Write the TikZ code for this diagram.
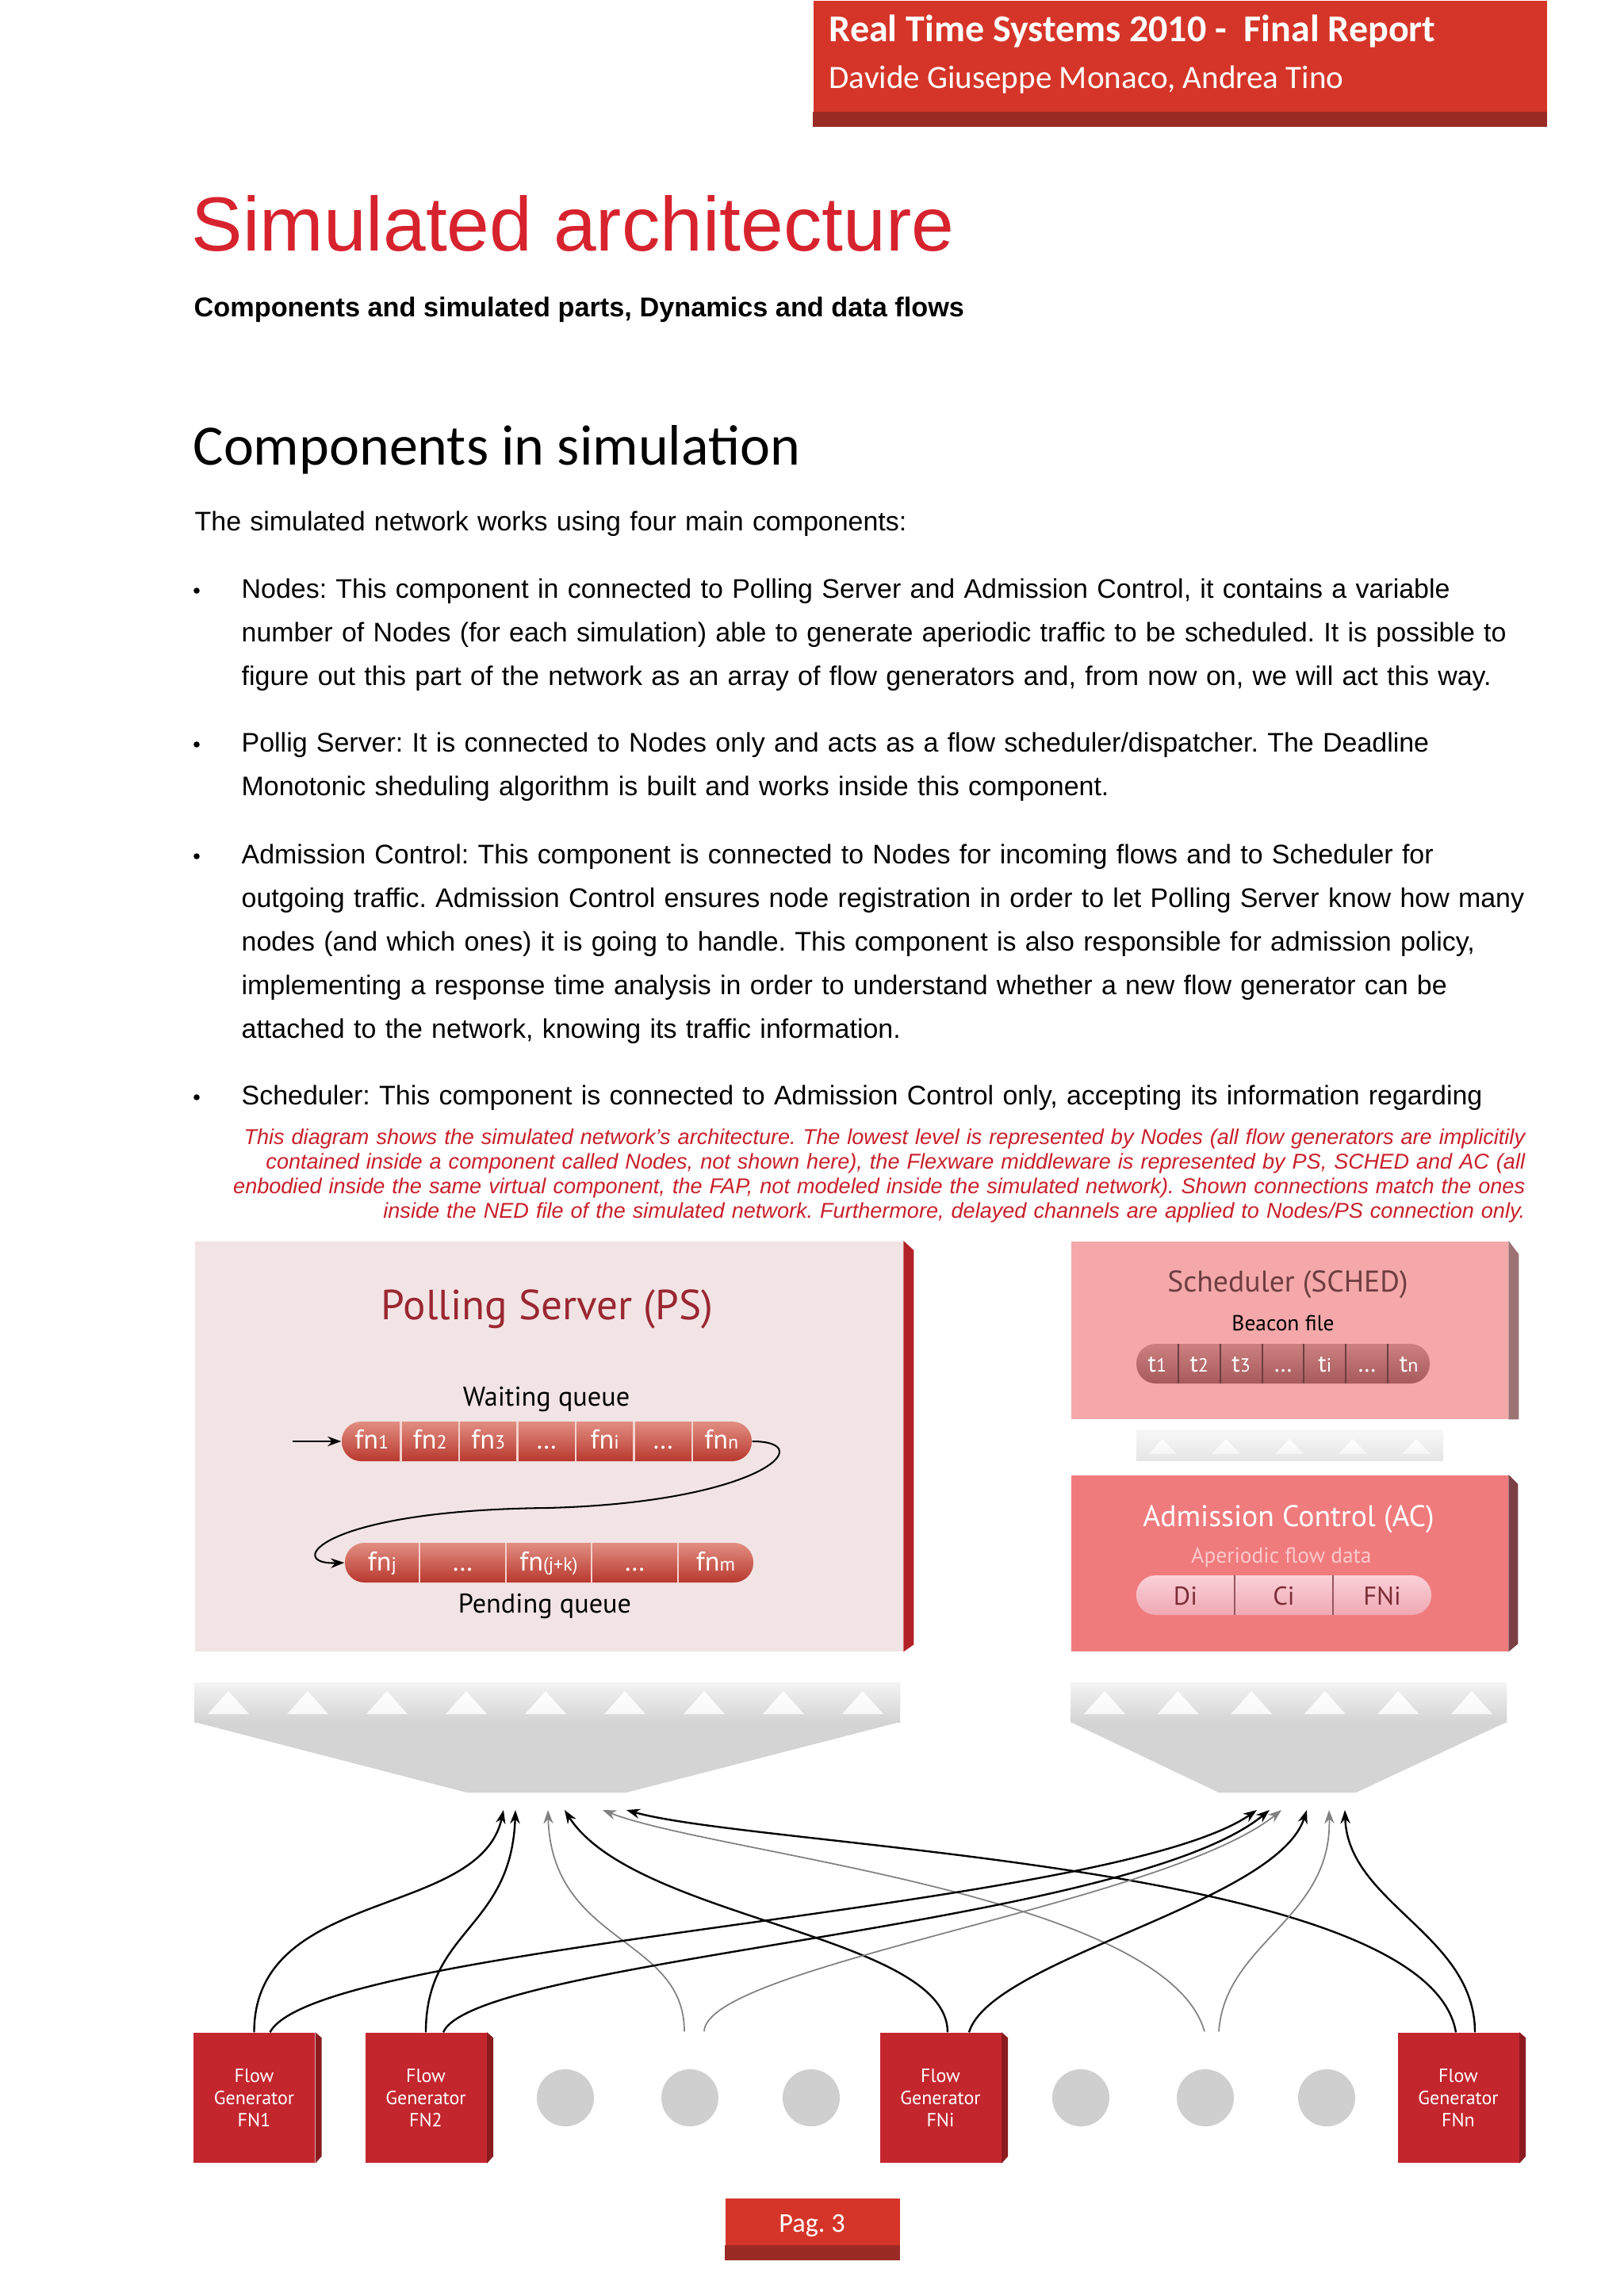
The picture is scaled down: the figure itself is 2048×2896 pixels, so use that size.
\documentclass[tikz,border=0pt]{standalone}
\usepackage{fontspec}
\setmainfont{Liberation Sans}
\newfontfamily\hdfont{Carlito}
\newfontfamily\dgfont{PT Sans}
\usetikzlibrary{calc,positioning,arrows.meta}

\definecolor{hdred}{RGB}{213,53,40}
\definecolor{hdband}{RGB}{154,43,36}
\definecolor{titlered}{RGB}{214,35,46}
\definecolor{capred}{RGB}{200,32,43}
\definecolor{psfill}{RGB}{242,228,228}
\definecolor{psside}{RGB}{178,32,40}
\definecolor{pstext}{RGB}{154,39,49}
\definecolor{qtop}{RGB}{226,142,130}
\definecolor{qbot}{RGB}{184,56,46}
\definecolor{schedfill}{RGB}{244,168,170}
\definecolor{schedside}{RGB}{156,114,117}
\definecolor{schedtext}{RGB}{110,62,64}
\definecolor{btop}{RGB}{204,128,128}
\definecolor{bbot}{RGB}{166,90,92}
\definecolor{acfill}{RGB}{240,123,125}
\definecolor{acside}{RGB}{122,62,68}
\definecolor{actop}{RGB}{250,208,216}
\definecolor{acbot}{RGB}{240,168,178}
\definecolor{actext}{RGB}{123,45,53}
\definecolor{acsub}{RGB}{251,201,202}
\definecolor{funnel}{RGB}{212,212,212}
\definecolor{fnred}{RGB}{196,38,46}
\definecolor{fnside}{RGB}{139,27,31}
\definecolor{dotgrey}{RGB}{207,207,207}
\definecolor{wiregrey}{RGB}{128,128,128}

\newcommand{\pxl}{0.0102539cm}
\newcommand{\qsub}[1]{{\fontsize{7}{8}\selectfont #1}}

\begin{document}
\frenchspacing
\begin{tikzpicture}[x=\pxl, y=-\pxl, >={Stealth[length=5pt,width=3.6pt]},
    box/.style={inner sep=0pt, anchor=north west},
    label/.style={anchor=base, inner sep=0pt},
    body/.style={anchor=base west, inner sep=0pt, text width=17.5cm, align=left,
        font=\fontsize{9.9}{16.1}\selectfont},
    queue/.style={inner sep=0pt, rounded corners=0.25cm},
    cell/.style={label, text=white, font=\dgfont\fontsize{10}{12}\selectfont},
    cellsep/.style={line width=0.6pt},
    fngen/.style={fill=fnred, minimum width=153*\pxl, minimum height=164*\pxl, inner sep=0pt,
        align=center, text=white, font=\dgfont\fontsize{7}{8.1}\selectfont},
    dot/.style={circle, fill=dotgrey, minimum size=72*\pxl, inner sep=0pt},
    flow/.style={->, line width=0.7pt},
    flowgrey/.style={->, line width=0.5pt, draw=wiregrey, wiregrey}
    ]
    \useasboundingbox (0,0) rectangle (2048,2896);
    \fill[white] (0,0) rectangle (2048,2896);

    \node[box, fill=hdred, minimum width=925*\pxl, minimum height=159*\pxl] (hdr) at (1025,0) {};
    \fill[hdband] ($(hdr.south west)+(0,-19)$) rectangle (hdr.south east);
    \node[anchor=base west, inner sep=0pt, text=white, font=\hdfont\bfseries\fontsize{14}{16}\selectfont]
        (hdtitle) at (1045,52) {Real Time Systems 2010 -\ \ Final Report};
    \node[anchor=base west, inner sep=0pt, text=white, font=\hdfont\fontsize{12}{14}\selectfont]
        (hdauthors) at (1045,111) {Davide Giuseppe Monaco, Andrea Tino};

    \node[anchor=base west, inner sep=0pt, text=titlered, font=\fontsize{28.2}{32}\selectfont]
        (title) at (241,316) {Simulated architecture};
    \node[anchor=base west, inner sep=0pt, font=\bfseries\fontsize{10}{12}\selectfont]
        (subtitle) at (244,399) {Components and simulated parts, Dynamics and data flows};
    \node[anchor=base west, inner sep=0pt, font=\hdfont\fontsize{21}{24}\selectfont]
        (heading) at (243,586) {Components in simulation};
    \node[body] (intro) at (245,669) {The simulated network works using four main components:};

    \node[body] (item1) at (304,754) {Nodes: This component in connected to Polling Server and Admission Control, it contains a variable\\
        number of Nodes (for each simulation) able to generate aperiodic traffic to be scheduled. It is possible to\\
        figure out this part of the network as an array of flow generators and, from now on, we will act this way.};
    \node[body] (item2) at (304,948) {Pollig Server: It is connected to Nodes only and acts as a flow scheduler/dispatcher. The Deadline\\
        Monotonic sheduling algorithm is built and works inside this component.};
    \node[body] (item3) at (304,1089) {Admission Control: This component is connected to Nodes for incoming flows and to Scheduler for\\
        outgoing traffic. Admission Control ensures node registration in order to let Polling Server know how many\\
        nodes (and which ones) it is going to handle. This component is also responsible for admission policy,\\
        implementing a response time analysis in order to understand whether a new flow generator can be\\
        attached to the network, knowing its traffic information.};
    \node[body] (item4) at (304,1393) {Scheduler: This component is connected to Admission Control only, accepting its information regarding};
    \foreach \y in {754,948,1089,1393}
        {\fill (248,\y-9) circle (1.1pt);}

    \node[anchor=base east, inner sep=0pt, text width=17.5cm, align=right, text=capred,
        font=\itshape\fontsize{7.9}{9.1}\selectfont] (caption) at (1924,1443)
        {This diagram shows the simulated network’s architecture. The lowest level is represented by Nodes (all flow generators are implicitily\\
        contained inside a component called Nodes, not shown here), the Flexware middleware is represented by PS, SCHED and AC (all\\
        enbodied inside the same virtual component, the FAP, not modeled inside the simulated network). Shown connections match the ones\\
        inside the NED file of the simulated network. Furthermore, delayed channels are applied to Nodes/PS connection only.};

    \node[box, fill=psfill, minimum width=893*\pxl, minimum height=517*\pxl] (ps) at (245,1565) {};
    \fill[psside] (ps.north east) -- ++(13,12) -- ($(ps.south east)+(13,-9)$) -- (ps.south east) -- cycle;
    \node[label, text=pstext, font=\dgfont\fontsize{15.5}{18}\selectfont] (pstitle) at (690,1664) {Polling Server (PS)};
    \node[label, font=\dgfont\fontsize{10}{12}\selectfont] (wqlabel) at (689,1773) {Waiting queue};
    \node[label, font=\dgfont\fontsize{10}{12}\selectfont] (pqlabel) at (687,2034) {Pending queue};

    \node[queue, top color=qtop, bottom color=qbot, minimum width=517*\pxl, minimum height=50*\pxl] (wq) at (689.5,1818) {};
    \foreach \t [count=\i] in {{fn\qsub{1}},{fn\qsub{2}},{fn\qsub{3}},{\ldots},{fn\qsub{i}},{\ldots},{fn\qsub{n}}}
        {\node[cell] (wq-\i) at (395.25+73.5*\i,1827) {\t};}
    \foreach \i in {1,...,6}
        {\draw[cellsep, draw=qtop!40!white] (432+73.5*\i,1793) -- ++(0,50);}

    \node[queue, top color=qtop, bottom color=qbot, minimum width=515*\pxl, minimum height=50*\pxl] (pq) at (692.5,1971) {};
    \foreach \x/\t [count=\i] in {482/{fn\qsub{j}},583.5/{\ldots},692/{fn\qsub{(j+k)}},800.5/{\ldots},902.5/{fn\qsub{m}}}
        {\node[cell] (pq-\i) at (\x,1981) {\t};}
    \foreach \x in {529,638,746,855}
        {\draw[cellsep, draw=qtop!40!white] (\x,1946) -- ++(0,50);}

    \coordinate (wqin) at (369,1818);
    \coordinate (wqpq) at (690,1902);
    \draw[->, line width=0.6pt] (wqin) -- (wq.west);
    \draw[->, line width=0.6pt] (wq.east) .. controls +(87,0) and +(270,-7) .. (wqpq)
        .. controls +(-290,3) and +(-75,3) .. (pq.west);

    \node[box, fill=schedfill, minimum width=551*\pxl, minimum height=224*\pxl] (sched) at (1350,1565) {};
    \fill[schedside] (sched.north east) -- ++(13,17) -- ($(sched.south east)+(13,0)$) -- (sched.south east) -- cycle;
    \node[label, text=schedtext, font=\dgfont\fontsize{11}{13}\selectfont] (schedtitle) at (1624,1629) {Scheduler (SCHED)};
    \node[label, font=\dgfont\fontsize{8}{10}\selectfont] (bflabel) at (1618,1678) {Beacon file};
    \node[queue, top color=btop, bottom color=bbot, minimum width=370*\pxl, minimum height=50*\pxl] (bf) at (1618,1720) {};
    \foreach \t [count=\i] in {{t\qsub{1}},{t\qsub{2}},{t\qsub{3}},{\ldots},{t\qsub{i}},{\ldots},{t\qsub{n}}}
        {\node[cell, font=\dgfont\fontsize{9}{11}\selectfont] (bf-\i) at (1406.57+52.86*\i,1730) {\t};}
    \foreach \i in {1,...,6}
        {\draw[cellsep, draw=schedtext] (1433+52.86*\i,1695) -- ++(0,50);}

    \shade[top color=gray!6, bottom color=gray!20] (1433,1803) rectangle (1820,1842);
    \foreach \i in {0,...,4}
        {\shade[top color=white, bottom color=gray!8] ({1448+80*\i},1834) -- ({1466+80*\i},1815) -- ({1484+80*\i},1834) -- cycle;}

    \node[box, fill=acfill, minimum width=551*\pxl, minimum height=222*\pxl] (ac) at (1350,1860) {};
    \fill[acside] (ac.north east) -- ++(12,12) -- ($(ac.south east)+(12,-10)$) -- (ac.south east) -- cycle;
    \node[label, text=white, font=\dgfont\fontsize{11}{13}\selectfont] (actitle) at (1625,1925) {Admission Control (AC)};
    \node[label, text=acsub, font=\dgfont\fontsize{8}{10}\selectfont] (fdlabel) at (1616,1971) {Aperiodic flow data};
    \node[queue, top color=actop, bottom color=acbot, minimum width=372*\pxl, minimum height=50*\pxl] (fd) at (1619,2012) {};
    \foreach \x/\t [count=\i] in {1495/Di,1619/Ci,1743/FNi}
        {\node[label, text=actext, font=\dgfont\fontsize{9.5}{11}\selectfont] (fd-\i) at (\x,2024) {\t};}
    \foreach \x in {1557,1681}
        {\draw[cellsep, draw=actext!80] (\x,1987) -- ++(0,50);}

    \fill[funnel] (245,2122) -- (1135,2122) -- (1135,2172) -- (790,2261) -- (589,2261) -- (245,2172) -- cycle;
    \shade[top color=gray!9, bottom color=funnel] (245,2122) rectangle (1135,2172);
    \foreach \i in {0,...,8}
        {\shade[top color=white, bottom color=gray!6] ({262+100*\i},2162) -- ({288+100*\i},2133) -- ({314+100*\i},2162) -- cycle;}
    \fill[funnel] (1350,2122) -- (1900,2122) -- (1900,2172) -- (1710,2261) -- (1537,2261) -- (1350,2172) -- cycle;
    \shade[top color=gray!9, bottom color=funnel] (1350,2122) rectangle (1900,2172);
    \foreach \i in {0,...,5}
        {\shade[top color=white, bottom color=gray!6] ({1367+92.6*\i},2162) -- ({1393+92.6*\i},2133) -- ({1419+92.6*\i},2162) -- cycle;}

    \foreach \n/\x in {1/635,2/650,3/691,4/712,5/760,6/790}
        {\coordinate (ps-in-\n) at (\x,2283);}
    \foreach \n/\x in {1/1585,2/1601,3/1616,4/1648,5/1676,6/1696}
        {\coordinate (ac-in-\n) at (\x,2283);}

    \node[fngen] (fn1) at (320.5,2646) {Flow\\Generator\\FN1};
    \node[fngen] (fn2) at (537,2646) {Flow\\Generator\\FN2};
    \node[fngen] (fni) at (1186,2646) {Flow\\Generator\\FNi};
    \node[fngen] (fnn) at (1839,2646) {Flow\\Generator\\FNn};
    \foreach \n in {fn1,fn2,fni,fnn}
        {\fill[fnside] (\n.north east) -- ++(8,7) -- ($(\n.south east)+(8,-9)$) -- (\n.south east) -- cycle;}
    \foreach \n/\x in {c1/713,c2/870,c3/1023,c4/1363,c5/1520,c6/1673}
        {\node[dot] (\n) at (\x,2646) {};}

    \draw[flow] (fn1.north) .. controls +(0,-183) and +(-30,138) .. (ps-in-1);
    \draw[flow] (fn2.north) .. controls +(0,-130) and +(-5,150) .. (ps-in-2);
    \draw[flowgrey] ($(c2.north)+(-7,-47)$) .. controls +(0,-120) and +(5,170) .. (ps-in-3);
    \draw[flow] ($(fni.north)+(9,0)$) .. controls +(0,-123) and +(88,138) .. (ps-in-4);
    \draw[flowgrey] ($(c5.north)+(-1,-47)$) .. controls +(-49,-173) and +(140,55) .. (ps-in-5);
    \draw[flow] ($(fnn.north)+(-3,0)$) .. controls +(-36,-213) and +(170,48) .. (ps-in-6);
    \draw[flow] ($(fn1.north)+(20,0)$) .. controls +(60,-113) and +(-185,128) .. (ac-in-1);
    \draw[flow] ($(fn2.north)+(22,0)$) .. controls +(41,-93) and +(-181,148) .. (ac-in-2);
    \draw[flowgrey] ($(c2.north)+(18,-47)$) .. controls +(2,-83) and +(-146,118) .. (ac-in-3);
    \draw[flow] ($(fni.north)+(36,0)$) .. controls +(28,-93) and +(-38,118) .. (ac-in-4);
    \draw[flowgrey] ($(c5.north)+(17,-47)$) .. controls +(8,-113) and +(4,138) .. (ac-in-5);
    \draw[flow] ($(fnn.north)+(21,0)$) .. controls +(0,-123) and +(4,118) .. (ac-in-6);

    \node[box, fill=hdred, minimum width=220*\pxl, minimum height=78*\pxl] (page) at (914,2772) {};
    \fill[hdband] ($(page.south west)+(0,-19)$) rectangle (page.south east);
    \node[label, text=white, font=\hdfont\fontsize{10}{12}\selectfont] (pagenum) at (1024,2815) {Pag. 3};
\end{tikzpicture}
\end{document}
